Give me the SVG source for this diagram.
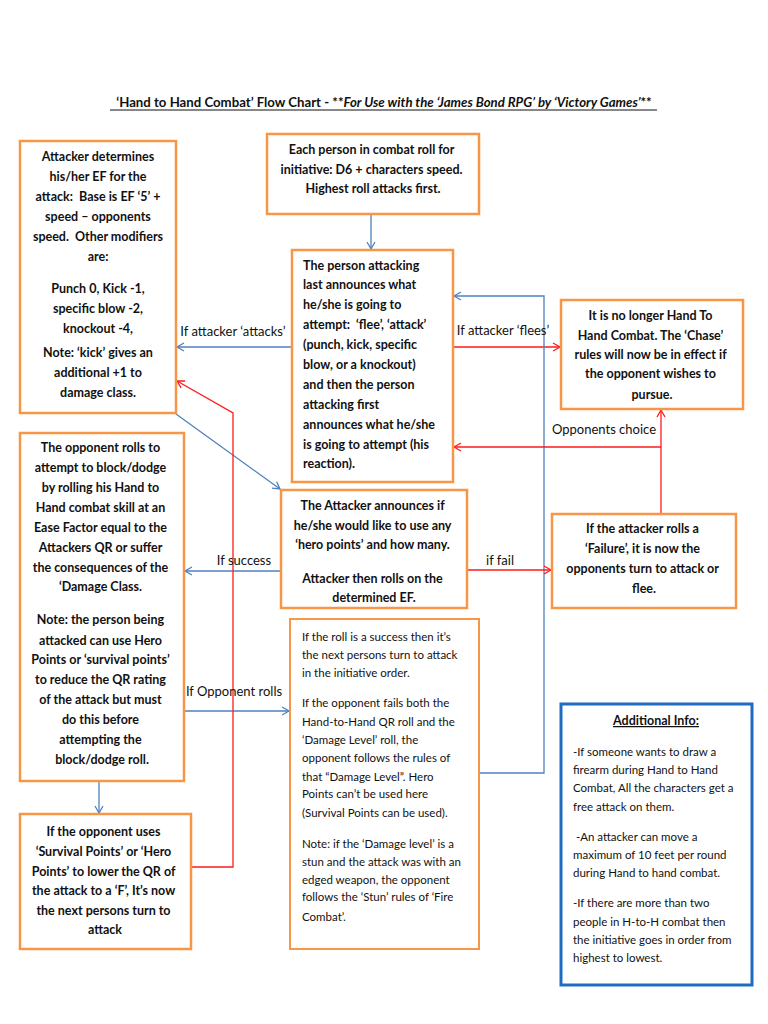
<svg xmlns="http://www.w3.org/2000/svg" width="768" height="1024" viewBox="0 0 768 1024">
<style>
.box{fill:#fff;stroke:#F79646;stroke-width:2.5}
.boxh{fill:#fff;stroke:#F79646;stroke-width:2}
.info{fill:#fff;stroke:#1F6BC0;stroke-width:3}
text{font-family:Lato,"Liberation Sans",sans-serif;fill:#111}
.b{font-weight:bold;font-size:12.5px}
.c{text-anchor:middle}
.r{font-size:11.5px}
.lbl{font-size:13px;font-weight:normal}
.blue{fill:none;stroke:#4F81BD;stroke-width:1.3}
.red{fill:none;stroke:#FF1A1A;stroke-width:1.3}
</style>
<defs>
<marker id="ab" markerWidth="10" markerHeight="10" refX="8" refY="5" orient="auto" markerUnits="userSpaceOnUse"><path d="M1,1 L8,5 L1,9" fill="none" stroke="#4F81BD" stroke-width="1.3"/></marker>
<marker id="ar" markerWidth="10" markerHeight="10" refX="8" refY="5" orient="auto" markerUnits="userSpaceOnUse"><path d="M1,1 L8,5 L1,9" fill="none" stroke="#FF1A1A" stroke-width="1.3"/></marker>
</defs>
<rect width="768" height="1024" fill="#fff"/>
<g id="title">
<text x="384" y="107" class="c" style="font-weight:bold;font-size:13.2px">‘Hand to Hand Combat’ Flow Chart - **<tspan font-style="italic">For Use with the ‘James Bond RPG’ by ‘Victory Games’</tspan>**</text>
<line x1="110" y1="110" x2="657" y2="110" stroke="#111" stroke-width="1"/>
</g>
<g id="connectors">
<path class="blue" d="M371,214 L371,249" marker-end="url(#ab)"/>
<path class="blue" d="M292,347 L177,347" marker-end="url(#ab)"/>
<path class="red" d="M453,347 L560,347" marker-end="url(#ar)"/>
<path class="blue" d="M479,773 L544,773 L544,296 L454,296" marker-end="url(#ab)"/>
<path class="red" d="M661,514 L661,410" marker-end="url(#ar)"/>
<path class="red" d="M661,447 L454,447" marker-end="url(#ar)"/>
<path class="red" d="M467,570 L551,570" marker-end="url(#ar)"/>
<path class="blue" d="M281,571 L185,571" marker-end="url(#ab)"/>
<path class="blue" d="M176,414 L280,489" marker-end="url(#ab)"/>
<path class="blue" d="M184,711 L289,711" marker-end="url(#ab)"/>
<path class="blue" d="M99,781 L99,813" marker-end="url(#ab)"/>
<path class="red" d="M191,867 L233,867 L233,413 L177,381" marker-end="url(#ar)"/>
<text x="233" y="336" class="c lbl">If attacker ‘attacks’</text>
<text x="503" y="335" class="c lbl">If attacker ‘flees’</text>
<text x="604" y="434" class="c lbl">Opponents choice</text>
<text x="500" y="565" class="c lbl">if fail</text>
<text x="244" y="565" class="c lbl">If success</text>
<text x="234" y="696" class="c lbl">If Opponent rolls</text>
</g>
<g id="nodeA">
<rect class="box" x="20" y="141" width="156" height="272"/>
<text class="b c" xml:space="preserve"><tspan x="98" y="161">Attacker determines</tspan><tspan x="98" y="181">his/her EF for the</tspan><tspan x="98" y="201">attack:  Base is EF ‘5’ +</tspan><tspan x="98" y="221">speed – opponents</tspan><tspan x="98" y="241">speed.  Other modifiers</tspan><tspan x="98" y="261">are:</tspan><tspan x="98" y="293">Punch 0, Kick -1,</tspan><tspan x="98" y="313">specific blow -2,</tspan><tspan x="98" y="333">knockout -4,</tspan><tspan x="98" y="357">Note: ‘kick’ gives an</tspan><tspan x="98" y="377">additional +1 to</tspan><tspan x="98" y="397">damage class.</tspan></text>
</g>
<g id="nodeB">
<rect class="box" x="267" y="134" width="212" height="80"/>
<text class="b c">
<tspan x="373" y="154">Each person in combat roll for</tspan>
<tspan x="373" y="174">initiative: D6 + characters speed.</tspan>
<tspan x="373" y="193">Highest roll attacks first.</tspan>
</text>
</g>
<g id="nodeC">
<rect class="box" x="292" y="250" width="161" height="232"/>
<text class="b" xml:space="preserve"><tspan x="303" y="270">The person attacking</tspan><tspan x="303" y="289">last announces what</tspan><tspan x="303" y="309">he/she is going to</tspan><tspan x="303" y="329">attempt:  ‘flee’, ‘attack’</tspan><tspan x="303" y="349">(punch, kick, specific</tspan><tspan x="303" y="369">blow, or a knockout)</tspan><tspan x="303" y="389">and then the person</tspan><tspan x="303" y="409">attacking first</tspan><tspan x="303" y="429">announces what he/she</tspan><tspan x="303" y="449">is going to attempt (his</tspan><tspan x="303" y="468">reaction).</tspan></text>
</g>
<g id="nodeD">
<rect class="box" x="561" y="300" width="182" height="109"/>
<text class="b c">
<tspan x="652" y="320">It is no longer Hand To</tspan>
<tspan x="652" y="340">Hand Combat. The ‘Chase’</tspan>
<tspan x="652" y="359">rules will now be in effect if</tspan>
<tspan x="652" y="378">the opponent wishes to</tspan>
<tspan x="652" y="399">pursue.</tspan>
</text>
</g>
<g id="nodeE">
<rect class="box" x="281" y="490" width="186" height="118"/>
<text class="b c">
<tspan x="374" y="510">The Attacker announces if</tspan>
<tspan x="374" y="530">he/she would like to use any</tspan>
<tspan x="374" y="549">‘hero points’ and how many.</tspan>
<tspan x="374" y="583">Attacker then rolls on the</tspan>
<tspan x="374" y="602">determined EF.</tspan>
</text>
</g>
<g id="nodeF">
<rect class="box" x="552" y="514" width="184" height="94"/>
<text class="b c">
<tspan x="644" y="533">If the attacker rolls a</tspan>
<tspan x="644" y="553">‘Failure’, it is now the</tspan>
<tspan x="644" y="573">opponents turn to attack or</tspan>
<tspan x="644" y="593">flee.</tspan>
</text>
</g>
<g id="nodeG">
<rect class="box" x="20" y="433" width="164" height="348"/>
<text class="b c">
<tspan x="102" y="452">The opponent rolls to</tspan>
<tspan x="102" y="472">attempt to block/dodge</tspan>
<tspan x="102" y="492">by rolling his Hand to</tspan>
<tspan x="102" y="512">Hand combat skill at an</tspan>
<tspan x="102" y="532">Ease Factor equal to the</tspan>
<tspan x="102" y="552">Attackers QR or suffer</tspan>
<tspan x="102" y="572">the consequences of the</tspan>
<tspan x="102" y="591">‘Damage Class.</tspan>
<tspan x="102" y="624">Note: the person being</tspan>
<tspan x="102" y="645">attacked can use Hero</tspan>
<tspan x="102" y="664">Points or ‘survival points’</tspan>
<tspan x="102" y="684">to reduce the QR rating</tspan>
<tspan x="102" y="704">of the attack but must</tspan>
<tspan x="102" y="724">do this before</tspan>
<tspan x="102" y="744">attempting the</tspan>
<tspan x="102" y="764">block/dodge roll.</tspan>
</text>
</g>
<g id="nodeH">
<rect class="boxh" x="290" y="619" width="189" height="330"/>
<text class="r">
<tspan x="302" y="641">If the roll is a success then it’s</tspan>
<tspan x="302" y="659">the next persons turn to attack</tspan>
<tspan x="302" y="677">in the initiative order.</tspan>
<tspan x="302" y="707">If the opponent fails both the</tspan>
<tspan x="302" y="726">Hand-to-Hand QR roll and the</tspan>
<tspan x="302" y="744">‘Damage Level’ roll, the</tspan>
<tspan x="302" y="762">opponent follows the rules of</tspan>
<tspan x="302" y="781">that “Damage Level”. Hero</tspan>
<tspan x="302" y="798">Points can’t be used here</tspan>
<tspan x="302" y="817">(Survival Points can be used).</tspan>
<tspan x="302" y="848">Note: if the ‘Damage level’ is a</tspan>
<tspan x="302" y="866">stun and the attack was with an</tspan>
<tspan x="302" y="884">edged weapon, the opponent</tspan>
<tspan x="302" y="901">follows the ‘Stun’ rules of ‘Fire</tspan>
<tspan x="302" y="921">Combat’.</tspan>
</text>
</g>
<g id="nodeI">
<rect class="info" x="561" y="704" width="191" height="281"/>
<text x="656" y="725" class="c" style="font-weight:bold;font-size:12.5px;text-decoration:underline">Additional Info:</text>
<text class="r" xml:space="preserve"><tspan x="573" y="756">-If someone wants to draw a</tspan><tspan x="573" y="774">firearm during Hand to Hand</tspan><tspan x="573" y="792">Combat, All the characters get a</tspan><tspan x="573" y="811">free attack on them.</tspan><tspan x="573" y="841"> -An attacker can move a</tspan><tspan x="573" y="859">maximum of 10 feet per round</tspan><tspan x="573" y="877">during Hand to hand combat.</tspan><tspan x="573" y="907">-If there are more than two</tspan><tspan x="573" y="926">people in H-to-H combat then</tspan><tspan x="573" y="944">the initiative goes in order from</tspan><tspan x="573" y="962">highest to lowest.</tspan></text>
</g>
<g id="nodeJ">
<rect class="box" x="20" y="814" width="171" height="135"/>
<text class="b c">
<tspan x="105" y="836">If the opponent uses</tspan>
<tspan x="105" y="856">‘Survival Points’ or ‘Hero</tspan>
<tspan x="105" y="876">Points’ to lower the QR of</tspan>
<tspan x="105" y="895">the attack to a ‘F’, It’s now</tspan>
<tspan x="105" y="915">the next persons turn to</tspan>
<tspan x="105" y="934">attack</tspan>
</text>
</g>
</svg>
